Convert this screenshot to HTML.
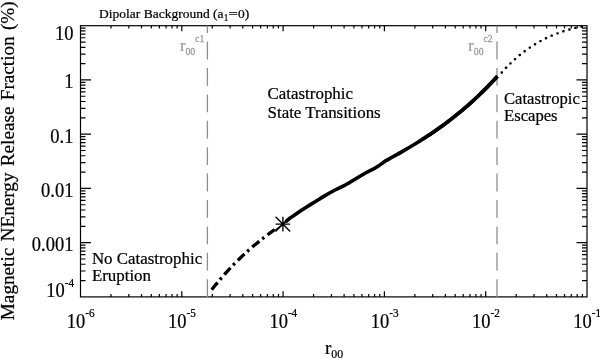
<!DOCTYPE html>
<html><head><meta charset="utf-8"><title>Magnetic Energy Release Fraction</title>
<style>html,body{margin:0;padding:0;background:#fff}svg{display:block}text{font-family:"Liberation Serif",serif;fill:#000;stroke:#000;stroke-width:0.22px}</style></head><body>
<svg width="600" height="359" viewBox="0 0 600 359">
<rect width="600" height="359" fill="#fff"/>
<path d="M110.99 296.9v-2.9M110.99 25.7v2.9M128.83 296.9v-2.9M128.83 25.7v2.9M141.49 296.9v-2.9M141.49 25.7v2.9M151.31 296.9v-2.9M151.31 25.7v2.9M159.33 296.9v-2.9M159.33 25.7v2.9M166.11 296.9v-2.9M166.11 25.7v2.9M171.98 296.9v-2.9M171.98 25.7v2.9M177.16 296.9v-2.9M177.16 25.7v2.9M181.80 296.9v-5.6M181.80 25.7v5.6M212.29 296.9v-2.9M212.29 25.7v2.9M230.13 296.9v-2.9M230.13 25.7v2.9M242.79 296.9v-2.9M242.79 25.7v2.9M252.61 296.9v-2.9M252.61 25.7v2.9M260.63 296.9v-2.9M260.63 25.7v2.9M267.41 296.9v-2.9M267.41 25.7v2.9M273.28 296.9v-2.9M273.28 25.7v2.9M278.46 296.9v-2.9M278.46 25.7v2.9M283.10 296.9v-5.6M283.10 25.7v5.6M313.59 296.9v-2.9M313.59 25.7v2.9M331.43 296.9v-2.9M331.43 25.7v2.9M344.09 296.9v-2.9M344.09 25.7v2.9M353.91 296.9v-2.9M353.91 25.7v2.9M361.93 296.9v-2.9M361.93 25.7v2.9M368.71 296.9v-2.9M368.71 25.7v2.9M374.58 296.9v-2.9M374.58 25.7v2.9M379.76 296.9v-2.9M379.76 25.7v2.9M384.40 296.9v-5.6M384.40 25.7v5.6M414.89 296.9v-2.9M414.89 25.7v2.9M432.73 296.9v-2.9M432.73 25.7v2.9M445.39 296.9v-2.9M445.39 25.7v2.9M455.21 296.9v-2.9M455.21 25.7v2.9M463.23 296.9v-2.9M463.23 25.7v2.9M470.01 296.9v-2.9M470.01 25.7v2.9M475.88 296.9v-2.9M475.88 25.7v2.9M481.06 296.9v-2.9M481.06 25.7v2.9M485.70 296.9v-5.6M485.70 25.7v5.6M516.19 296.9v-2.9M516.19 25.7v2.9M534.03 296.9v-2.9M534.03 25.7v2.9M546.69 296.9v-2.9M546.69 25.7v2.9M556.51 296.9v-2.9M556.51 25.7v2.9M564.53 296.9v-2.9M564.53 25.7v2.9M571.31 296.9v-2.9M571.31 25.7v2.9M577.18 296.9v-2.9M577.18 25.7v2.9M582.36 296.9v-2.9M582.36 25.7v2.9M80.5 280.57h5M587.0 280.57h-5M80.5 271.02h5M587.0 271.02h-5M80.5 264.24h5M587.0 264.24h-5M80.5 258.99h5M587.0 258.99h-5M80.5 254.69h5M587.0 254.69h-5M80.5 251.06h5M587.0 251.06h-5M80.5 247.92h5M587.0 247.92h-5M80.5 245.14h5M587.0 245.14h-5M80.5 242.66h10.5M587.0 242.66h-10.5M80.5 226.33h5M587.0 226.33h-5M80.5 216.78h5M587.0 216.78h-5M80.5 210.00h5M587.0 210.00h-5M80.5 204.75h5M587.0 204.75h-5M80.5 200.45h5M587.0 200.45h-5M80.5 196.82h5M587.0 196.82h-5M80.5 193.68h5M587.0 193.68h-5M80.5 190.90h5M587.0 190.90h-5M80.5 188.42h10.5M587.0 188.42h-10.5M80.5 172.09h5M587.0 172.09h-5M80.5 162.54h5M587.0 162.54h-5M80.5 155.76h5M587.0 155.76h-5M80.5 150.51h5M587.0 150.51h-5M80.5 146.21h5M587.0 146.21h-5M80.5 142.58h5M587.0 142.58h-5M80.5 139.44h5M587.0 139.44h-5M80.5 136.66h5M587.0 136.66h-5M80.5 134.18h10.5M587.0 134.18h-10.5M80.5 117.85h5M587.0 117.85h-5M80.5 108.30h5M587.0 108.30h-5M80.5 101.52h5M587.0 101.52h-5M80.5 96.27h5M587.0 96.27h-5M80.5 91.97h5M587.0 91.97h-5M80.5 88.34h5M587.0 88.34h-5M80.5 85.20h5M587.0 85.20h-5M80.5 82.42h5M587.0 82.42h-5M80.5 79.94h10.5M587.0 79.94h-10.5M80.5 63.61h5M587.0 63.61h-5M80.5 54.06h5M587.0 54.06h-5M80.5 47.28h5M587.0 47.28h-5M80.5 42.03h5M587.0 42.03h-5M80.5 37.73h5M587.0 37.73h-5M80.5 34.10h5M587.0 34.10h-5M80.5 30.96h5M587.0 30.96h-5M80.5 28.18h5M587.0 28.18h-5" stroke="#000" stroke-width="1.2" fill="none"/>
<rect x="80.5" y="25.7" width="506.50" height="271.20" fill="none" stroke="#000" stroke-width="1.2"/>
<line x1="207.4" y1="25.7" x2="207.4" y2="296.9" stroke="#8e8e8e" stroke-width="1.3" stroke-dasharray="17.8 8.6" stroke-dashoffset="10.5"/>
<line x1="497.0" y1="25.7" x2="497.0" y2="296.9" stroke="#8e8e8e" stroke-width="1.3" stroke-dasharray="17.8 8.6" stroke-dashoffset="10.5"/>
<text transform="translate(179.9,50.6) scale(1,1.06)" font-size="16.6" style="fill:#999;stroke:#999">r</text><text transform="translate(185.4,55.1) scale(1,1.16)" font-size="9.8" style="fill:#999;stroke:#999">00</text><text transform="translate(195.1,41.7) scale(1,1.16)" font-size="9.8" style="fill:#999;stroke:#999">c1</text>
<text transform="translate(468.3,50.6) scale(1,1.06)" font-size="16.6" style="fill:#999;stroke:#999">r</text><text transform="translate(473.8,55.1) scale(1,1.16)" font-size="9.8" style="fill:#999;stroke:#999">00</text><text transform="translate(483.5,41.7) scale(1,1.16)" font-size="9.8" style="fill:#999;stroke:#999">c2</text>
<path d="M211.80 289.65L213.41 287.60L215.03 285.58L216.64 283.59L218.25 281.64L219.86 279.72L221.48 277.83L223.09 275.97L224.70 274.15L226.32 272.35L227.93 270.58L229.54 268.85L231.15 267.14L232.77 265.45L234.38 263.80L235.99 262.17L237.61 260.57L239.22 258.99L240.83 257.44L242.44 255.92L244.06 254.41L245.67 252.93L247.28 251.47L248.89 250.04L250.51 248.62L252.12 247.23L253.73 245.86L255.35 244.50L256.96 243.17L258.57 241.85L260.18 240.55L261.80 239.27L263.41 238.00L265.02 236.75L266.64 235.52L268.25 234.30L269.86 233.10L271.47 231.91L273.09 230.73L274.70 229.56" stroke="#000" stroke-width="3.3" fill="none" stroke-dasharray="9.2 3.7 2.6 4.1"/>
<path d="M274.6 230.53L282.6 224.5" stroke="#000" stroke-width="1.1" fill="none"/>
<path d="M282.9 224.1L286.3 221.2" stroke="#000" stroke-width="1.6" fill="none"/>
<polyline points="285.6,221.75 290,218.13 295,214.74 300,211.25 305.05,207.93 310,204.87 315.1,201.81 320,198.66 325,195.63 330,192.77 335.05,190.01 340,187.55 345.1,185.04 350,182.34 355,179.2 360,176.2 365.05,173.22 370.1,170.57 375.1,168.05 380,164.89 385.0,161.18 387.5,159.81 390.0,158.43 392.49,157.04 394.99,155.64 397.49,154.23 399.99,152.81" stroke="#000" stroke-width="3.6" fill="none" stroke-linejoin="round"/>
<polyline points="397.49,154.23 399.99,152.81 402.48,151.37 404.98,149.92 407.48,148.46 409.98,146.97 412.48,145.47 414.97,143.95 417.47,142.41 419.97,140.85 422.47,139.27 424.96,137.67 427.46,136.04 429.96,134.38 432.46,132.7 434.96,130.99 437.45,129.25 439.95,127.49 442.45,125.69 444.95,123.86 447.44,122.0 449.94,120.1 452.44,118.17 454.94,116.2 457.44,114.2 459.93,112.16 462.43,110.08 464.93,107.96 467.43,105.79 469.92,103.59 472.42,101.34 474.92,99.04 477.42,96.71 479.92,94.32 482.41,91.89 484.91,89.4 487.41,86.87 489.91,84.29 492.4,81.65 494.9,78.96 497.4,76.22" stroke="#000" stroke-width="3.6" fill="none" stroke-linejoin="round"/>
<polyline points="422.47,139.27 424.96,137.67 427.46,136.04 429.96,134.38 432.46,132.7 434.96,130.99 437.45,129.25 439.95,127.49 442.45,125.69 444.95,123.86 447.44,122.0 449.94,120.1 452.44,118.17 454.94,116.2 457.44,114.2 459.93,112.16 462.43,110.08 464.93,107.96 467.43,105.79 469.92,103.59 472.42,101.34 474.92,99.04 477.42,96.71 479.92,94.32 482.41,91.89 484.91,89.4 487.41,86.87 489.91,84.29 492.4,81.65 494.9,78.96 497.4,76.22" stroke="#000" stroke-width="3.6" fill="none" stroke-linejoin="round"/>
<g><rect x="500.59" y="71.23" width="2.4" height="2.4" rx="0.7"/><rect x="504.86" y="66.61" width="2.4" height="2.4" rx="0.7"/><rect x="509.27" y="62.18" width="2.4" height="2.4" rx="0.7"/><rect x="513.81" y="57.95" width="2.4" height="2.4" rx="0.7"/><rect x="518.57" y="53.87" width="2.4" height="2.4" rx="0.7"/><rect x="523.47" y="50.03" width="2.4" height="2.4" rx="0.7"/><rect x="528.59" y="46.38" width="2.4" height="2.4" rx="0.7"/><rect x="533.84" y="43.01" width="2.4" height="2.4" rx="0.7"/><rect x="539.28" y="39.88" width="2.4" height="2.4" rx="0.7"/><rect x="544.80" y="37.05" width="2.4" height="2.4" rx="0.7"/><rect x="550.50" y="34.47" width="2.4" height="2.4" rx="0.7"/><rect x="556.33" y="32.15" width="2.4" height="2.4" rx="0.7"/><rect x="562.21" y="30.10" width="2.4" height="2.4" rx="0.7"/><rect x="568.22" y="28.28" width="2.4" height="2.4" rx="0.7"/><rect x="574.23" y="26.69" width="2.4" height="2.4" rx="0.7"/><rect x="580.33" y="25.28" width="2.4" height="2.4" rx="0.7"/></g>
<path d="M275.59999999999997 224.1h14.6M282.9 216.79999999999998v14.6M275.60 216.80l14.60 14.60M275.60 231.40l14.60 -14.60" stroke="#000" stroke-width="1.35" fill="none"/>
<text x="99.1" y="18.1" font-size="13.5">Dipolar Background (a</text>
<text transform="translate(223.9,20.8) scale(1,1.12)" font-size="8.4">1</text>
<text transform="translate(228.4,18.1) scale(1.23,1)" font-size="13.5">=</text>
<text x="238.1" y="18.1" font-size="13.5">0)</text>
<text transform="translate(13.7,320.2) rotate(-90)" font-size="19.2" word-spacing="1.5">Magnetic NEnergy Release Fraction (%)</text>
<text transform="translate(73.4,39.6) scale(1,1.12)" font-size="18.5" text-anchor="end">10</text>
<text transform="translate(73.4,87.9) scale(1,1.12)" font-size="18.5" text-anchor="end">1</text>
<text transform="translate(73.4,142.6) scale(1,1.12)" font-size="18.5" text-anchor="end">0.1</text>
<text transform="translate(73.4,196.9) scale(1,1.12)" font-size="18.5" text-anchor="end">0.01</text>
<text transform="translate(73.4,250.8) scale(1,1.12)" font-size="18.5" text-anchor="end">0.001</text>
<text transform="translate(74,297) scale(1,1.12)" font-size="18.5" text-anchor="end">10<tspan font-size="11.2" dy="-9.3">-4</tspan></text>
<text transform="translate(80.70,327.7) scale(1,1.12)" font-size="18.5" text-anchor="middle">10<tspan font-size="11.2" dy="-9.3">-6</tspan></text>
<text transform="translate(182.00,327.7) scale(1,1.12)" font-size="18.5" text-anchor="middle">10<tspan font-size="11.2" dy="-9.3">-5</tspan></text>
<text transform="translate(283.30,327.7) scale(1,1.12)" font-size="18.5" text-anchor="middle">10<tspan font-size="11.2" dy="-9.3">-4</tspan></text>
<text transform="translate(384.60,327.7) scale(1,1.12)" font-size="18.5" text-anchor="middle">10<tspan font-size="11.2" dy="-9.3">-3</tspan></text>
<text transform="translate(485.90,327.7) scale(1,1.12)" font-size="18.5" text-anchor="middle">10<tspan font-size="11.2" dy="-9.3">-2</tspan></text>
<text transform="translate(587.20,327.7) scale(1,1.12)" font-size="18.5" text-anchor="middle">10<tspan font-size="11.2" dy="-9.3">-1</tspan></text>
<text x="325" y="353.6" font-size="19">r<tspan font-size="11.8" dy="4.7">00</tspan></text>
<text x="267.6" y="99.2" font-size="16.9">Catastrophic</text>
<text x="267.6" y="117.6" font-size="16.9">State Transitions</text>
<text x="504.0" y="104.2" font-size="16.65">Catastropic</text>
<text x="504.0" y="121.3" font-size="16.65">Escapes</text>
<text x="91.9" y="263.9" font-size="16.9">No Catastrophic</text>
<text x="91.9" y="280.6" font-size="16.9">Eruption</text>
</svg></body></html>
